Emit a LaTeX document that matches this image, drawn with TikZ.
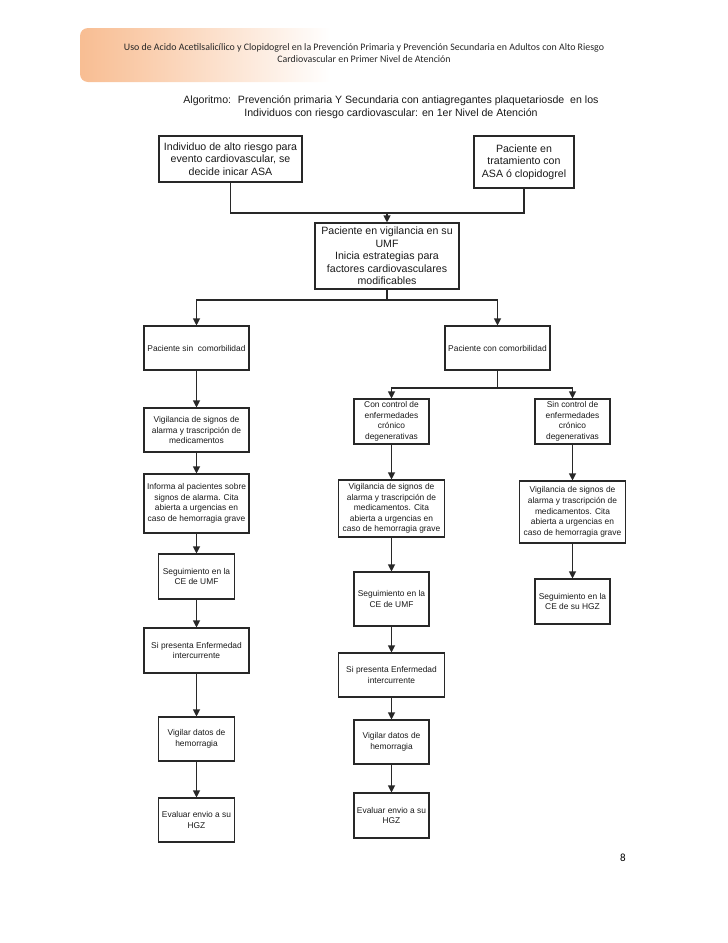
\documentclass[tikz,border=0pt]{standalone}
\usepackage{fontspec}
\setmainfont{Liberation Sans}
\newfontfamily\hdrfont{Carlito}
\usetikzlibrary{arrows.meta}
\definecolor{hdrorange}{RGB}{243,140,65}
\definecolor{lncol}{RGB}{40,40,40}
\pgfdeclarehorizontalshading{hdrshade}{100bp}{color(0bp)=(hdrorange); color(12bp)=(hdrorange!88!white); color(30bp)=(hdrorange!45!white); color(47bp)=(white); color(100bp)=(white)}
\newcommand\bigf{\fontsize{10.6pt}{12.6pt}\selectfont}
\newcommand\smallf{\fontsize{8.4pt}{10.6pt}\selectfont}
\tikzset{
  boxbase/.style={draw=lncol, line width=1.1pt, inner sep=0pt, align=center, text=black!90},
  bigbox/.style={boxbase, font=\bigf},
  smbox/.style={boxbase, font=\smallf},
  ln/.style={draw=lncol, line width=1.1pt},
  arr/.style={ln, -{Triangle[length=7pt,width=7pt]}},
}
\begin{document}
\begin{tikzpicture}[x=1pt,y=-1pt]
\useasboundingbox (0,0) rectangle (728,943);
% header band
\shade[shading=hdrshade, rounded corners=8pt] (80,28) rectangle (650,82);
\node[font=\hdrfont\fontsize{9.9pt}{12pt}\selectfont, align=center, text=black!85] (hdr) at (364,53)
  {Uso de Acido Acetilsalicílico y Clopidogrel en la Prevención Primaria y Prevención Secundaria en Adultos con Alto Riesgo\\Cardiovascular en Primer Nivel de Atención};
% title
\node[font=\bigf, align=center, text=black!90] (title) at (391,107)
  {Algoritmo:~ Prevención primaria Y Secundaria con antiagregantes plaquetariosde~ en los\\Individuos con riesgo cardiovascular: en 1er Nivel de Atención};
% top boxes
\node[bigbox, minimum width=143pt, minimum height=46pt] (A) at (230.5,159)
  {Individuo de alto riesgo para\\evento cardiovascular, se\\decide inicar ASA};
\node[bigbox, minimum width=100pt, minimum height=52pt] (B) at (524,162)
  {Paciente en\\tratamiento con\\ASA ó clopidogrel};
\node[bigbox, minimum width=144pt, minimum height=66pt] (C) at (387,256)
  {Paciente en vigilancia en su\\UMF\\Inicia estrategias para\\factores cardiovasculares\\modificables};
\node[smbox, minimum width=105pt, minimum height=44pt] (D) at (196.5,348)
  {Paciente sin~ comorbilidad};
\node[smbox, minimum width=105pt, minimum height=44pt] (E) at (497.5,348)
  {Paciente con comorbilidad};
\node[smbox, minimum width=75pt, minimum height=45pt] (F) at (391.5,421.5)
  {Con control de\\enfermedades\\crónico\\degenerativas};
\node[smbox, minimum width=75pt, minimum height=45pt] (G) at (572.5,421.5)
  {Sin control de\\enfermedades\\crónico\\degenerativas};
% left column
\node[smbox, minimum width=105pt, minimum height=44pt] (L1) at (196.5,430)
  {Vigilancia de signos de\\alarma y trascripción de\\medicamentos};
\node[smbox, minimum width=105pt, minimum height=59pt] (L2) at (196.5,503.5)
  {Informa al pacientes sobre\\signos de alarma. Cita\\abierta a urgencias en\\caso de hemorragia grave};
\node[smbox, minimum width=76pt, minimum height=45pt] (L3) at (196.5,576.5)
  {Seguimiento en la\\CE de UMF};
\node[smbox, minimum width=105pt, minimum height=45pt] (L4) at (196.5,650.5)
  {Si presenta Enfermedad\\intercurrente};
\node[smbox, minimum width=76pt, minimum height=44pt] (L5) at (196.5,739)
  {Vigilar datos de\\hemorragia};
\node[smbox, minimum width=76pt, minimum height=44pt] (L6) at (196.5,820)
  {Evaluar envio a su\\HGZ};
% middle column
\node[smbox, minimum width=106pt, minimum height=57pt] (M1) at (391.5,508.5)
  {Vigilancia de signos de\\alarma y trascripción de\\medicamentos. Cita\\abierta a urgencias en\\caso de hemorragia grave};
\node[smbox, minimum width=75pt, minimum height=54pt] (M2) at (391.5,599)
  {Seguimiento en la\\CE de UMF};
\node[smbox, minimum width=106pt, minimum height=44pt] (M3) at (391.5,675)
  {Si presenta Enfermedad\\intercurrente};
\node[smbox, minimum width=75pt, minimum height=44pt] (M4) at (391.5,742)
  {Vigilar datos de\\hemorragia};
\node[smbox, minimum width=75pt, minimum height=45pt] (M5) at (391.5,815.5)
  {Evaluar envio a su\\HGZ};
% right column
\node[smbox, minimum width=106pt, minimum height=62pt] (R1) at (572.5,512)
  {Vigilancia de signos de\\alarma y trascripción de\\medicamentos. Cita\\abierta a urgencias en\\caso de hemorragia grave};
\node[smbox, minimum width=75pt, minimum height=45pt] (R2) at (572.5,601.5)
  {Seguimiento en la\\CE de su HGZ};
% page number
\node[font=\hdrfont\fontsize{11pt}{13pt}\selectfont] (pg) at (623,858) {8};
% connectors
\coordinate (j1) at (387,213);
\coordinate (j2) at (387,300);
\coordinate (j3) at (497.5,388);
\draw[ln] (A.south) |- (j1) -| (B.south);
\draw[arr] (j1) -- (C.north);
\draw[arr] (C.south) -- (j2) -| (D.north);
\draw[arr] (j2) -| (E.north);
\draw[arr] (E.south) -- (j3) -| (F.north);
\draw[arr] (j3) -| (G.north);
\draw[arr] (D.south) -- (L1.north);
\draw[arr] (L1.south) -- (L2.north);
\draw[arr] (L2.south) -- (L3.north);
\draw[arr] (L3.south) -- (L4.north);
\draw[arr] (L4.south) -- (L5.north);
\draw[arr] (L5.south) -- (L6.north);
\draw[arr] (F.south) -- (M1.north);
\draw[arr] (M1.south) -- (M2.north);
\draw[arr] (M2.south) -- (M3.north);
\draw[arr] (M3.south) -- (M4.north);
\draw[arr] (M4.south) -- (M5.north);
\draw[arr] (G.south) -- (R1.north);
\draw[arr] (R1.south) -- (R2.north);
\end{tikzpicture}
\end{document}
